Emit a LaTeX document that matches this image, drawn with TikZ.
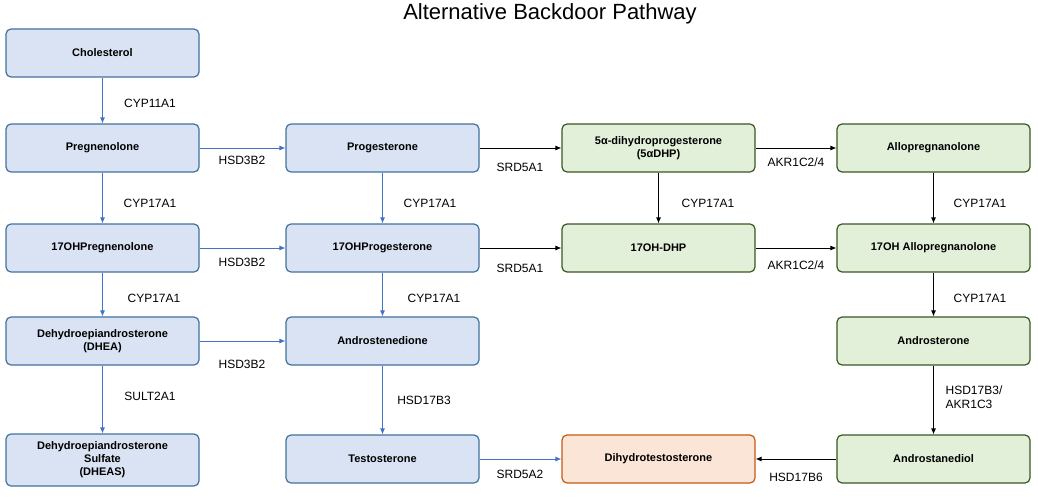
\documentclass[tikz,border=0pt]{standalone}
\usepackage{fontspec}
\setmainfont{Liberation Sans}
\usetikzlibrary{arrows.meta}
\definecolor{bf}{HTML}{DAE3F3}\definecolor{bd}{HTML}{41719C}
\definecolor{gf}{HTML}{E2F0D9}\definecolor{gd}{HTML}{385723}
\definecolor{of}{HTML}{FBE5D6}\definecolor{od}{HTML}{C55A11}
\definecolor{arrblue}{HTML}{4472C4}
\begin{document}
\begin{tikzpicture}[x=1pt,y=-1pt,
 box/.style={draw=bd,fill=bf,line width=1.2pt,rounded corners=5pt,minimum width=193pt,minimum height=48pt,align=center,font=\bfseries\fontsize{11}{13}\selectfont},
 gbox/.style={box,draw=gd,fill=gf},
 obox/.style={box,draw=od,fill=of},
 ba/.style={-{Latex[length=6pt,width=5pt]},draw=arrblue,line width=0.8pt},
 bk/.style={-{Latex[length=6pt,width=5pt]},draw=black,line width=0.8pt},
 lab/.style={font=\fontsize{12}{14}\selectfont,align=left}]
\useasboundingbox (0,0) rectangle (1038,500);
\node[font=\fontsize{22}{26}\selectfont] (t) at (550,14) {Alternative Backdoor Pathway};
\node[box] (chol) at (102.5,53) {Cholesterol};
\node[box] (preg) at (102.5,148) {Pregnenolone};
\node[box] (prog) at (382.5,148) {Progesterone};
\node[gbox] (dhp) at (658.5,148) {5α-dihydroprogesterone\\(5αDHP)};
\node[gbox] (allo) at (933.5,148) {Allopregnanolone};
\node[box] (ohpreg) at (102.5,248) {17OHPregnenolone};
\node[box] (ohprog) at (382.5,248) {17OHProgesterone};
\node[gbox] (ohdhp) at (658.5,248) {17OH-DHP};
\node[gbox] (ohallo) at (933.5,248) {17OH Allopregnanolone};
\node[box] (dhea) at (102.5,341) {Dehydroepiandrosterone\\(DHEA)};
\node[box] (andro) at (382.5,341) {Androstenedione};
\node[gbox] (ander) at (933.5,341) {Androsterone};
\node[box,minimum height=52pt] (dheas) at (102.5,460) {Dehydroepiandrosterone\\Sulfate\\(DHEAS)};
\node[box] (testo) at (382.5,459) {Testosterone};
\node[obox] (dht) at (658.5,459) {Dihydrotestosterone};
\node[gbox] (adiol) at (933.5,459) {Androstanediol};
\draw[ba] (chol)--(preg); \draw[ba] (preg)--(prog);
\draw[bk] (prog)--(dhp); \draw[bk] (dhp)--(allo);
\draw[ba] (preg)--(ohpreg); \draw[ba] (prog)--(ohprog);
\draw[bk] (dhp)--(ohdhp); \draw[bk] (allo)--(ohallo);
\draw[ba] (ohpreg)--(ohprog); \draw[bk] (ohprog)--(ohdhp); \draw[bk] (ohdhp)--(ohallo);
\draw[ba] (ohpreg)--(dhea); \draw[ba] (ohprog)--(andro); \draw[bk] (ohallo)--(ander);
\draw[ba] (dhea)--(andro); \draw[ba] (dhea)--(dheas); \draw[ba] (andro)--(testo);
\draw[bk] (ander)--(adiol); \draw[ba] (testo)--(dht); \draw[bk] (adiol)--(dht);
\node[lab] (l1) at (150,103) {CYP11A1};
\node[lab] (l2) at (242,160) {HSD3B2};
\node[lab] (l3) at (520,167) {SRD5A1};
\node[lab] (l4) at (796,162) {AKR1C2/4};
\node[lab] (l5) at (150,203) {CYP17A1};
\node[lab] (l6) at (430,203) {CYP17A1};
\node[lab] (l7) at (708,203) {CYP17A1};
\node[lab] (l8) at (980,203) {CYP17A1};
\node[lab] (l9) at (242,262) {HSD3B2};
\node[lab] (l10) at (520,268) {SRD5A1};
\node[lab] (l11) at (796,265) {AKR1C2/4};
\node[lab] (l12) at (154,298) {CYP17A1};
\node[lab] (l13) at (434,298) {CYP17A1};
\node[lab] (l14) at (980,298) {CYP17A1};
\node[lab] (l15) at (242,364) {HSD3B2};
\node[lab] (l16) at (150,396) {SULT2A1};
\node[lab] (l17) at (424,400) {HSD17B3};
\node[lab] (l18) at (974,397) {HSD17B3/\\AKR1C3};
\node[lab] (l19) at (520,474) {SRD5A2};
\node[lab] (l20) at (796,477) {HSD17B6};
\end{tikzpicture}
\end{document}
